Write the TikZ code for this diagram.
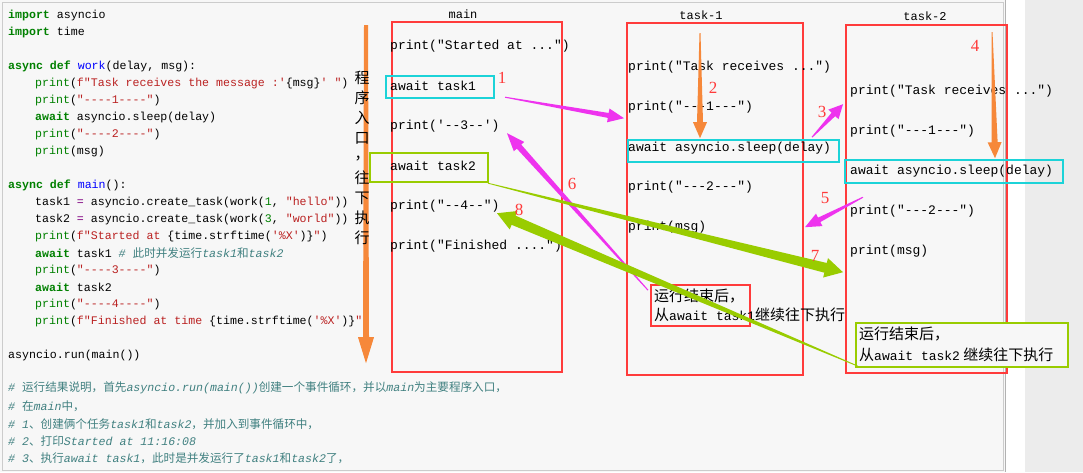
\documentclass[tikz,border=0pt]{standalone}
\usepackage{fontspec}
\setmainfont{Liberation Serif}
\setmonofont{Liberation Mono}
\newfontfamily\cjk{Noto Sans CJK SC}
\usetikzlibrary{calc,positioning}
\definecolor{kw}{HTML}{008000}
\definecolor{fn}{HTML}{0000FF}
\definecolor{st}{HTML}{BA2121}
\definecolor{cm}{HTML}{408080}
\definecolor{boxred}{HTML}{FF3B3B}
\definecolor{boxcyan}{HTML}{1CD3D8}
\definecolor{boxgreen}{HTML}{99CC00}
\definecolor{arrmag}{HTML}{EE33EE}
\definecolor{arrorange}{HTML}{F6883A}
\definecolor{panel}{HTML}{F7F7F7}
\tikzset{
  code/.style={anchor=west,inner sep=0pt,font=\ttfamily\fontsize{11.6}{12}\selectfont},
  col/.style={anchor=west,inner sep=0pt,font=\ttfamily\fontsize{13}{13}\selectfont},
  head/.style={inner sep=0pt,font=\ttfamily\fontsize{12}{12}\selectfont},
  num/.style={inner sep=0pt,text=boxred,font=\fontsize{17}{17}\selectfont},
  colbox/.style={draw=boxred,line width=2.2pt},
  hlbox/.style={line width=2.4pt},
  note/.style={anchor=west,inner sep=0pt,font=\cjk\fontsize{15}{15}\selectfont},
}
% tapered arrow: colour, from, to, tail/shaft/head half widths, head length
\newcommand\fatarrow[7]{%
  \coordinate (hb) at ($(#3)!#7!(#2)$);
  \fill[#1] ($(#2)!#4!90:(#3)$) -- ($(hb)!#5!90:(#3)$) -- ($(hb)!#6!90:(#3)$)
    -- (#3) -- ($(hb)!#6!-90:(#3)$) -- ($(hb)!#5!-90:(#3)$) -- ($(#2)!#4!-90:(#3)$) -- cycle;}
\newcommand\kw[1]{\textcolor{kw}{\textbf{#1}}}
\newcommand\pr[1]{\textcolor{kw}{print}(\textcolor{st}{#1})}

\begin{document}
\begin{tikzpicture}[x=1pt,y=-1pt]
% background
  \fill[white] (0,0) rectangle (1083,472);
  \fill[panel] (0,0) rectangle (1005,472);
  \fill[gray!15] (1025,0) rectangle (1083,472);
  \draw[gray!60] (1005,0) -- (1005,472);
  \draw[gray!40] (2,2) rectangle (1003,470);
  \useasboundingbox (0,0) rectangle (1083,472);
% source code
  \node[code] (l1) at (8,15) {\kw{import} asyncio};
  \node[code] (l2) at (8,32) {\kw{import} time};
  \node[code] (l3) at (8,66) {\kw{async def} \textcolor{fn}{work}(delay, msg):};
  \node[code] (l4) at (35,83) {\textcolor{kw}{print}(\textcolor{st}{f"Task receives the message :'}\{msg\}\textcolor{st}{' "})};
  \node[code] (l5) at (35,100) {\pr{"----1----"}};
  \node[code] (l6) at (35,117) {\kw{await} asyncio.sleep(delay)};
  \node[code] (l7) at (35,134) {\pr{"----2----"}};
  \node[code] (l8) at (35,151) {\textcolor{kw}{print}(msg)};
  \node[code] (l9) at (8,185) {\kw{async def} \textcolor{fn}{main}():};
  \node[code] (l10) at (35,202) {task1 \textcolor{violet}{=} asyncio.create\_task(work(\textcolor{kw}{1}, \textcolor{st}{"hello"}))};
  \node[code] (l11) at (35,219) {task2 \textcolor{violet}{=} asyncio.create\_task(work(\textcolor{kw}{3}, \textcolor{st}{"world"}))};
  \node[code] (l12) at (35,236) {\textcolor{kw}{print}(\textcolor{st}{f"Started at }\{time.strftime(\textcolor{st}{'\%X'})\}\textcolor{st}{"})};
  \node[code] (l13) at (35,253) {\kw{await} task1  \textcolor{cm}{\itshape \# {\cjk 此时并发运行}task1{\cjk 和}task2}};
  \node[code] (l14) at (35,270) {\pr{"----3----"}};
  \node[code] (l15) at (35,287) {\kw{await} task2};
  \node[code] (l16) at (35,304) {\pr{"----4----"}};
  \node[code] (l17) at (35,321) {\textcolor{kw}{print}(\textcolor{st}{f"Finished at time }\{time.strftime(\textcolor{st}{'\%X'})\}\textcolor{st}{"}};
  \node[code] (l18) at (8,355) {asyncio.run(main())};
% comments
  \begin{scope}[every node/.append style={code,text=cm,font=\ttfamily\itshape\fontsize{11.6}{12}\selectfont}]
  \node (c1) at (8,388) {\# {\cjk 运行结果说明，首先}asyncio.run(main()){\cjk 创建一个事件循环，并以}main{\cjk 为主要程序入口，}};
  \node (c2) at (8,406) {\# {\cjk 在}main{\cjk 中，}};
  \node (c3) at (8,424) {\# 1{\cjk 、创建俩个任务}task1{\cjk 和}task2{\cjk ，并加入到事件循环中，}};
  \node (c4) at (8,441) {\# 2{\cjk 、打印}Started at 11:16:08};
  \node (c5) at (8,458) {\# 3{\cjk 、执行}await task1{\cjk ，此时是并发运行了}task1{\cjk 和}task2{\cjk 了，}};
  \end{scope}
% entry arrow
  \coordinate (entryA) at (366,25);
  \coordinate (entryB) at (366,363);
  \fatarrow{arrorange}{entryA}{entryB}{2pt}{3pt}{8pt}{26pt}
  \foreach \ch [count=\i] in {程,序,入,口,，,往,下,执,行}
    \node[inner sep=0pt,font=\cjk\fontsize{15}{15}\selectfont] (v\i) at (362,58+20*\i) {\ch};
% columns
  \draw[colbox] (392,22) rectangle (562,372);
  \draw[colbox] (627,23) rectangle (803,375);
  \draw[colbox] (846,25) rectangle (1007,373);
  \node[head] (hmain) at (463,14) {main};
  \node[head] (ht1) at (701,15) {task-1};
  \node[head] (ht2) at (925,16) {task-2};
% main
  \node[col] (m1) at (390,46) {print("Started at ...")};
  \node[col] (m2) at (390,86) {await task1};
  \node[col] (m3) at (390,126) {print('--3--')};
  \node[col] (m4) at (390,166) {await task2};
  \node[col] (m5) at (390,206) {print("--4--")};
  \node[col] (m6) at (390,246) {print("Finished ....")};
% task-1
  \node[col] (a1) at (628,67) {print("Task receives ...")};
  \node[col] (a2) at (628,107) {print("---1---")};
  \node[col] (a3) at (628,148) {await asyncio.sleep(delay)};
  \node[col] (a4) at (628,187) {print("---2---")};
  \node[col] (a5) at (628,227) {print(msg)};
% task-2
  \node[col] (b1) at (850,91) {print("Task receives ...")};
  \node[col] (b2) at (850,131) {print("---1---")};
  \node[col] (b3) at (850,171) {await asyncio.sleep(delay)};
  \node[col] (b4) at (850,211) {print("---2---")};
  \node[col] (b5) at (850,251) {print(msg)};
% highlight boxes
  \draw[hlbox,boxcyan] (386,76) rectangle (494,98);
  \draw[hlbox,boxcyan] (628,140) rectangle (839,162);
  \draw[hlbox,boxcyan] (845,160) rectangle (1063,183);
  \draw[hlbox,boxgreen] (370,153) rectangle (488,182);
% notes
  \draw[colbox] (651,285) rectangle (750,326);
  \node[note] (n1a) at (654,296) {运行结束后，};
  \node[note] (n1b) at (654,315) {从{\ttfamily\fontsize{13}{13}\selectfont await task1}继续往下执行};
  \draw[hlbox,boxgreen,fill=panel] (856,323) rectangle (1068,367);
  \node[note] (n2a) at (859,334) {运行结束后，};
  \node[note] (n2b) at (859,355) {从{\ttfamily\fontsize{13}{13}\selectfont await task2} 继续往下执行};
% flow arrows
  \coordinate (s1) at (505,97);   \coordinate (e1) at (624,118);
  \coordinate (s3) at (812,137);  \coordinate (e3) at (843,104);
  \coordinate (s5) at (863,197);  \coordinate (e5) at (805,227);
  \coordinate (s6) at (648,290);  \coordinate (e6) at (507,133);
  \coordinate (s7) at (488,183);  \coordinate (e7) at (843,272);
  \coordinate (s8) at (858,366);  \coordinate (e8) at (497,213);
  \coordinate (s2) at (700,33);   \coordinate (e2) at (700,138);
  \coordinate (s4) at (992,32);   \coordinate (e4) at (995,158);
  \fatarrow{arrmag}{s1}{e1}{0.5pt}{2.5pt}{7pt}{16pt}
  \fatarrow{arrmag}{s3}{e3}{0.5pt}{2.5pt}{7pt}{14pt}
  \fatarrow{arrmag}{s5}{e5}{0.5pt}{2.5pt}{7pt}{16pt}
  \fatarrow{arrmag}{s6}{e6}{0.5pt}{3pt}{7pt}{18pt}
  \fatarrow{boxgreen}{s7}{e7}{0.4pt}{5pt}{10pt}{18pt}
  \fatarrow{boxgreen}{s8}{e8}{0.4pt}{5pt}{10pt}{18pt}
  \fatarrow{arrorange}{s2}{e2}{0.5pt}{3pt}{7pt}{16pt}
  \fatarrow{arrorange}{s4}{e4}{0.5pt}{3pt}{7pt}{16pt}
% step numbers
  \node[num] (k1) at (502,78) {1};
  \node[num] (k2) at (713,88) {2};
  \node[num] (k3) at (822,112) {3};
  \node[num] (k4) at (975,46) {4};
  \node[num] (k5) at (825,198) {5};
  \node[num] (k6) at (572,184) {6};
  \node[num] (k7) at (815,256) {7};
  \node[num] (k8) at (519,210) {8};
\end{tikzpicture}
\end{document}
